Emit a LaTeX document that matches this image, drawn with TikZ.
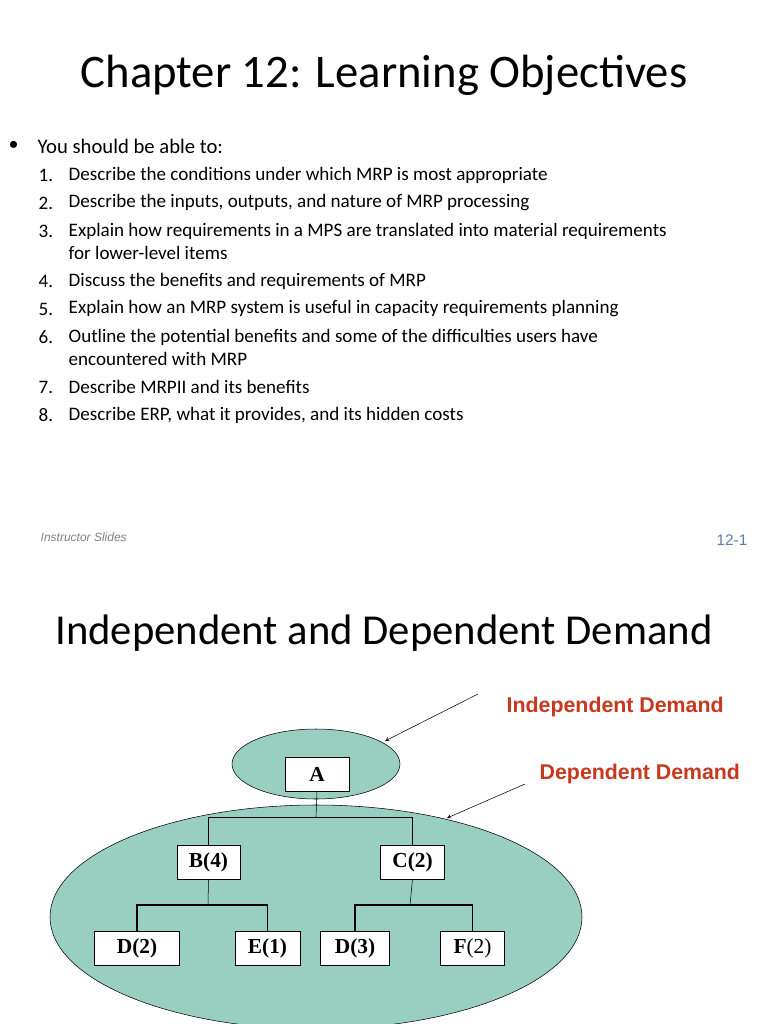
\documentclass[tikz,border=0pt]{standalone}
\usepackage{fontspec}
\setmainfont{Carlito}
\newfontfamily\arialf{Liberation Sans}
\newfontfamily\timesf{Liberation Serif}
\usetikzlibrary{backgrounds}
\definecolor{teal}{HTML}{99CFC0}
\definecolor{redl}{HTML}{C8381E}
\definecolor{blueg}{HTML}{5B7DA8}
\begin{document}
\begin{tikzpicture}[x=0.75pt,y=-0.75pt,
  item/.style={anchor=west,font=\fontsize{14.3}{16}\selectfont},
  num/.style={anchor=west,font=\fontsize{14.3}{16}\selectfont},
  bx/.style={draw,fill=white,minimum height=25.5pt,inner sep=0pt,font=\timesf\bfseries\fontsize{16}{18}\selectfont},
  lbl/.style={anchor=west,text=redl,font=\arialf\bfseries\fontsize{16}{18}\selectfont}]
\useasboundingbox (0,0) rectangle (768,1024);
\node (t1) at (384,75) {\fontsize{35}{40}\selectfont Chapter 12: Learning Objectives};
\node[anchor=west] (bul) at (4,146) {\fontsize{15}{17}\selectfont •};
\node[anchor=west] (yb) at (33,146) {\fontsize{15.5}{18}\selectfont You should be able to:};
\foreach \n/\y/\t in {1/175/Describe the conditions under which MRP is most appropriate,
 2/203/{Describe the inputs, outputs, and nature of MRP processing},
 3/231/Explain how requirements in a MPS are translated into material requirements,
 4/281/Discuss the benefits and requirements of MRP,
 5/309/Explain how an MRP system is useful in capacity requirements planning,
 6/337/Outline the potential benefits and some of the difficulties users have,
 7/387/Describe MRPII and its benefits,
 8/415/{Describe ERP, what it provides, and its hidden costs}}{
 \node[num] (n\n) at (34,\y) {\n.};
 \node[item] (i\n) at (64,\y) {\t};
}
\node[item] (i3b) at (64,253) {for lower-level items};
\node[item] (i6b) at (64,359) {encountered with MRP};
\node[anchor=west,text=gray,font=\arialf\itshape\fontsize{9}{10}\selectfont] (is) at (36,537) {Instructor Slides};
\node[anchor=east,text=blueg,font=\arialf\fontsize{11.5}{13}\selectfont] (pg) at (752,540) {12-1};
\node (t2) at (384,633) {\fontsize{32}{37}\selectfont Independent and Dependent Demand};
\node[bx,minimum width=48pt] (A) at (317,774) {A};
\node[bx,minimum width=47pt] (B) at (208.5,862) {B(4)};
\node[bx,minimum width=48pt] (C) at (412.5,862) {C(2)};
\node[bx,minimum width=64pt] (D2) at (137,948) {D(2)};
\node[bx,minimum width=49pt] (E) at (267.5,948) {E(1)};
\node[bx,minimum width=52pt] (D3) at (355,948) {D(3)};
\node[bx,minimum width=48pt] (F) at (472.5,948) {F\textmd{(2)}};
\coordinate (ja) at (316,817);
\coordinate (jb) at (208,905);
\coordinate (jc) at (410,905);
\begin{scope}[on background layer]
\draw[fill=teal] (316,917) ellipse [x radius=266*0.75pt, y radius=112*0.75pt];
\draw[fill=teal] (316,764) ellipse [x radius=84*0.75pt, y radius=35*0.75pt];
\draw (A.south) -- (ja);
\draw (B.north) |- (ja) -| (C.north);
\draw (B.south) -- (jb);
\draw[line width=1pt] (D2.north) |- (jb) -| (E.north);
\draw (C.south) -- (jc);
\draw[line width=1pt] (D3.north) |- (jc) -| (F.north);
\end{scope}
\node[lbl] (ind) at (502,707) {Independent Demand};
\node[lbl] (dep) at (535,774) {Dependent Demand};
\coordinate (s1) at (478,694);
\coordinate (e1) at (385,741);
\coordinate (s2) at (525,784);
\coordinate (e2) at (447,818);
\draw[-stealth] (s1) -- (e1);
\draw[-stealth] (s2) -- (e2);
\end{tikzpicture}
\end{document}
